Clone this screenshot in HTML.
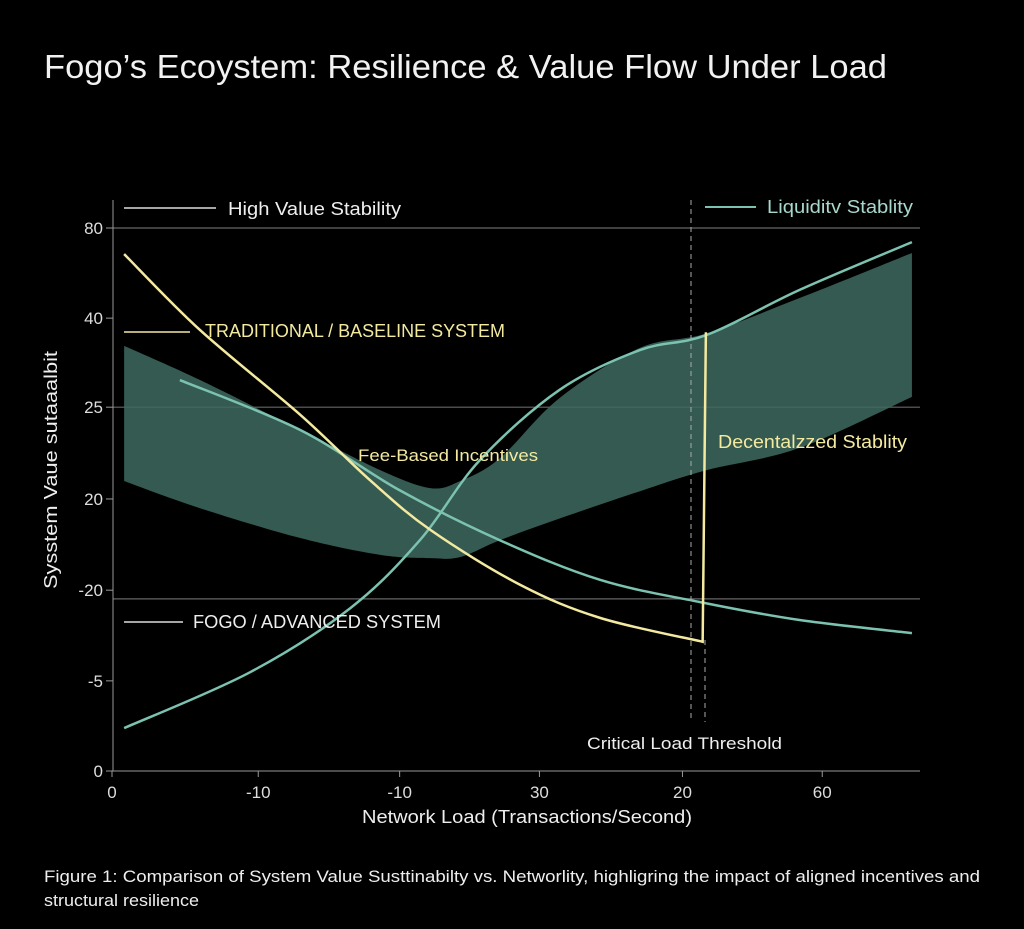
<!DOCTYPE html>
<html><head><meta charset="utf-8"><style>
body{margin:0;background:#000;width:1024px;height:924px;overflow:hidden;font-family:"Liberation Sans",sans-serif}
</style></head><body>
<svg id="c" width="1024" height="924" xmlns="http://www.w3.org/2000/svg" style="font-family:'Liberation Sans',sans-serif">
<text x="44" y="78" fill="#f2f2f2" font-size="33" textLength="843" lengthAdjust="spacingAndGlyphs">Fogo’s Ecoystem: Resilience &amp; Value Flow Under Load</text>
<g id="grid"></g>
<g id="band"></g>
<g id="lines"></g>
<g id="axes"></g>
<text x="57" y="470" fill="#eee" font-size="18" text-anchor="middle" textLength="238" lengthAdjust="spacingAndGlyphs" transform="rotate(-90 57 470)">Sysstem Vaue sutaaalbit</text>
<text x="527" y="823" fill="#eee" font-size="18" text-anchor="middle" textLength="330" lengthAdjust="spacingAndGlyphs">Network Load (Transactions/Second)</text>
<text x="44" y="882" fill="#eee" font-size="17" textLength="936" lengthAdjust="spacingAndGlyphs">Figure 1: Comparison of System Value Susttinabilty vs. Networlity, highligring the impact of aligned incentives and</text>
<text x="44" y="906" fill="#eee" font-size="17" textLength="155" lengthAdjust="spacingAndGlyphs">structural resilience</text>
<g><line x1="124" y1="208" x2="216" y2="208" stroke="#ddd" stroke-width="1.5"/><text x="228" y="215" fill="#eee" font-size="18" textLength="173" lengthAdjust="spacingAndGlyphs">High Value Stability</text></g>
<g><line x1="705" y1="207" x2="756" y2="207" stroke="#7cc2b0" stroke-width="2"/><text x="767" y="213" fill="#a8d8cc" font-size="18" textLength="146" lengthAdjust="spacingAndGlyphs">Liquiditv Stablity</text></g>
<g><line x1="124" y1="332" x2="190" y2="332" stroke="#f3eaa0" stroke-width="1.5"/><text x="205" y="337" fill="#f3eaa0" font-size="18" textLength="300" lengthAdjust="spacingAndGlyphs">TRADITIONAL / BASELINE SYSTEM</text></g>
<g><line x1="124" y1="622" x2="183" y2="622" stroke="#ddd" stroke-width="1.5"/><text x="193" y="628" fill="#eee" font-size="18" textLength="248" lengthAdjust="spacingAndGlyphs">FOGO / ADVANCED SYSTEM</text></g>
<text x="358" y="461" fill="#f3eaa0" font-size="17" textLength="180" lengthAdjust="spacingAndGlyphs">Fee-Based Incentives</text>
<text x="718" y="448" fill="#f3eaa0" font-size="18" textLength="189" lengthAdjust="spacingAndGlyphs">Decentalzzed Stablity</text>
<text x="587" y="749" fill="#eee" font-size="17" textLength="195" lengthAdjust="spacingAndGlyphs">Critical Load Threshold</text>
<line x1="691" y1="200" x2="691" y2="722" stroke="#aaa" stroke-dasharray="5,4"/>
<line x1="705" y1="640" x2="705" y2="722" stroke="#aaa" stroke-dasharray="5,4"/>
</svg>
<script>
const yTickLabels=["80","40","25","20","-20","-5","0"];
const yTickVals=[100,83.4,67,50.1,33.3,16.6,0];
const xTickLabels=["0","-10","-10","30","20","60"];
const xTickVals=[0,18.1,35.6,52.9,70.6,87.9];
const gridVals=[100,67,31.7];
const yellowX=[1.5,10.9,23.3,31.9,39.4,50.5,60.4,73.1,73.5];
const yellowY=[95.2,81.2,65.6,53.6,44.4,34.3,28.2,23.8,80.8];
const tealUpX=[1.5,17.1,29.5,38.1,45.5,55.4,65.3,73.6,85.1,99];
const tealUpY=[7.9,18.2,30,42.5,57.2,70.2,77.5,80.3,88.6,97.4];
const tealDnX=[8.4,23.3,35.6,48,60.4,72.8,85.1,99];
const tealDnY=[72,62.8,51.7,42.5,35.2,31.1,27.8,25.4];
const bandX=[1.5,10.9,23.3,33.2,39.4,43.1,48,55.4,65.3,73.6,85.1,99];
const bandHi=[78.3,72,62.8,55.4,52.1,53.4,57.6,68.7,77.9,80.6,87.1,95.4];
const bandLo=[53.4,48.4,42.9,39.8,39.2,39.4,42.5,46.5,51.5,55.4,59.5,68.9];
const X=v=>112+v*8.08, Y=v=>771-v*5.43;
const ns="http://www.w3.org/2000/svg";
function mk(p,t,a){const e=document.createElementNS(ns,t);for(const k in a)e.setAttribute(k,a[k]);document.getElementById(p).appendChild(e);return e;}
function smooth(xs,ys){let pts=xs.map((x,i)=>[X(x),Y(ys[i])]);let d="M"+pts[0];for(let i=1;i<pts.length;i++){const p0=pts[i-2]||pts[i-1],p1=pts[i-1],p2=pts[i],p3=pts[i+1]||p2;const c1=[p1[0]+(p2[0]-p0[0])/6,p1[1]+(p2[1]-p0[1])/6],c2=[p2[0]-(p3[0]-p1[0])/6,p2[1]-(p3[1]-p1[1])/6];d+=" C"+c1+" "+c2+" "+p2;}return d;}
gridVals.forEach(v=>{const l=mk("grid","line",{x1:113,x2:920,y1:Y(v),y2:Y(v),stroke:"#666","stroke-width":1.2});

});
mk("axes","line",{x1:113,x2:113,y1:200,y2:771,stroke:"#999"});
mk("axes","line",{x1:113,x2:920,y1:771,y2:771,stroke:"#999"});
yTickVals.forEach((v,i)=>{mk("axes","line",{x1:106,x2:113,y1:Y(v),y2:Y(v),stroke:"#999"});const t=mk("axes","text",{x:103,y:Y(v)+6,fill:"#ddd","font-size":17,"text-anchor":"end"});t.textContent=yTickLabels[i];

});
xTickVals.forEach((v,i)=>{mk("axes","line",{x1:X(v),x2:X(v),y1:771,y2:777,stroke:"#999"});const t=mk("axes","text",{x:X(v),y:798,fill:"#ddd","font-size":17,"text-anchor":"middle"});t.textContent=xTickLabels[i];

});
const hi=smooth(bandX,bandHi);const lo=smooth(bandX.slice().reverse(),bandLo.slice().reverse());
const b=mk("band","path",{d:hi+" L"+lo.slice(1)+" Z",fill:"#3e6a5f","fill-opacity":0.85});


const dn=mk("lines","path",{d:smooth(tealDnX,tealDnY),fill:"none",stroke:"#7cc2b0","stroke-width":2.5});


const up=mk("lines","path",{d:smooth(tealUpX,tealUpY),fill:"none",stroke:"#7cc2b0","stroke-width":2.5});


const yl=mk("lines","path",{d:smooth(yellowX.slice(0,8),yellowY.slice(0,8))+" L"+X(yellowX[8])+","+Y(yellowY[8]),fill:"none",stroke:"#f3eaa0","stroke-width":2.5});


</script>
</body></html>
